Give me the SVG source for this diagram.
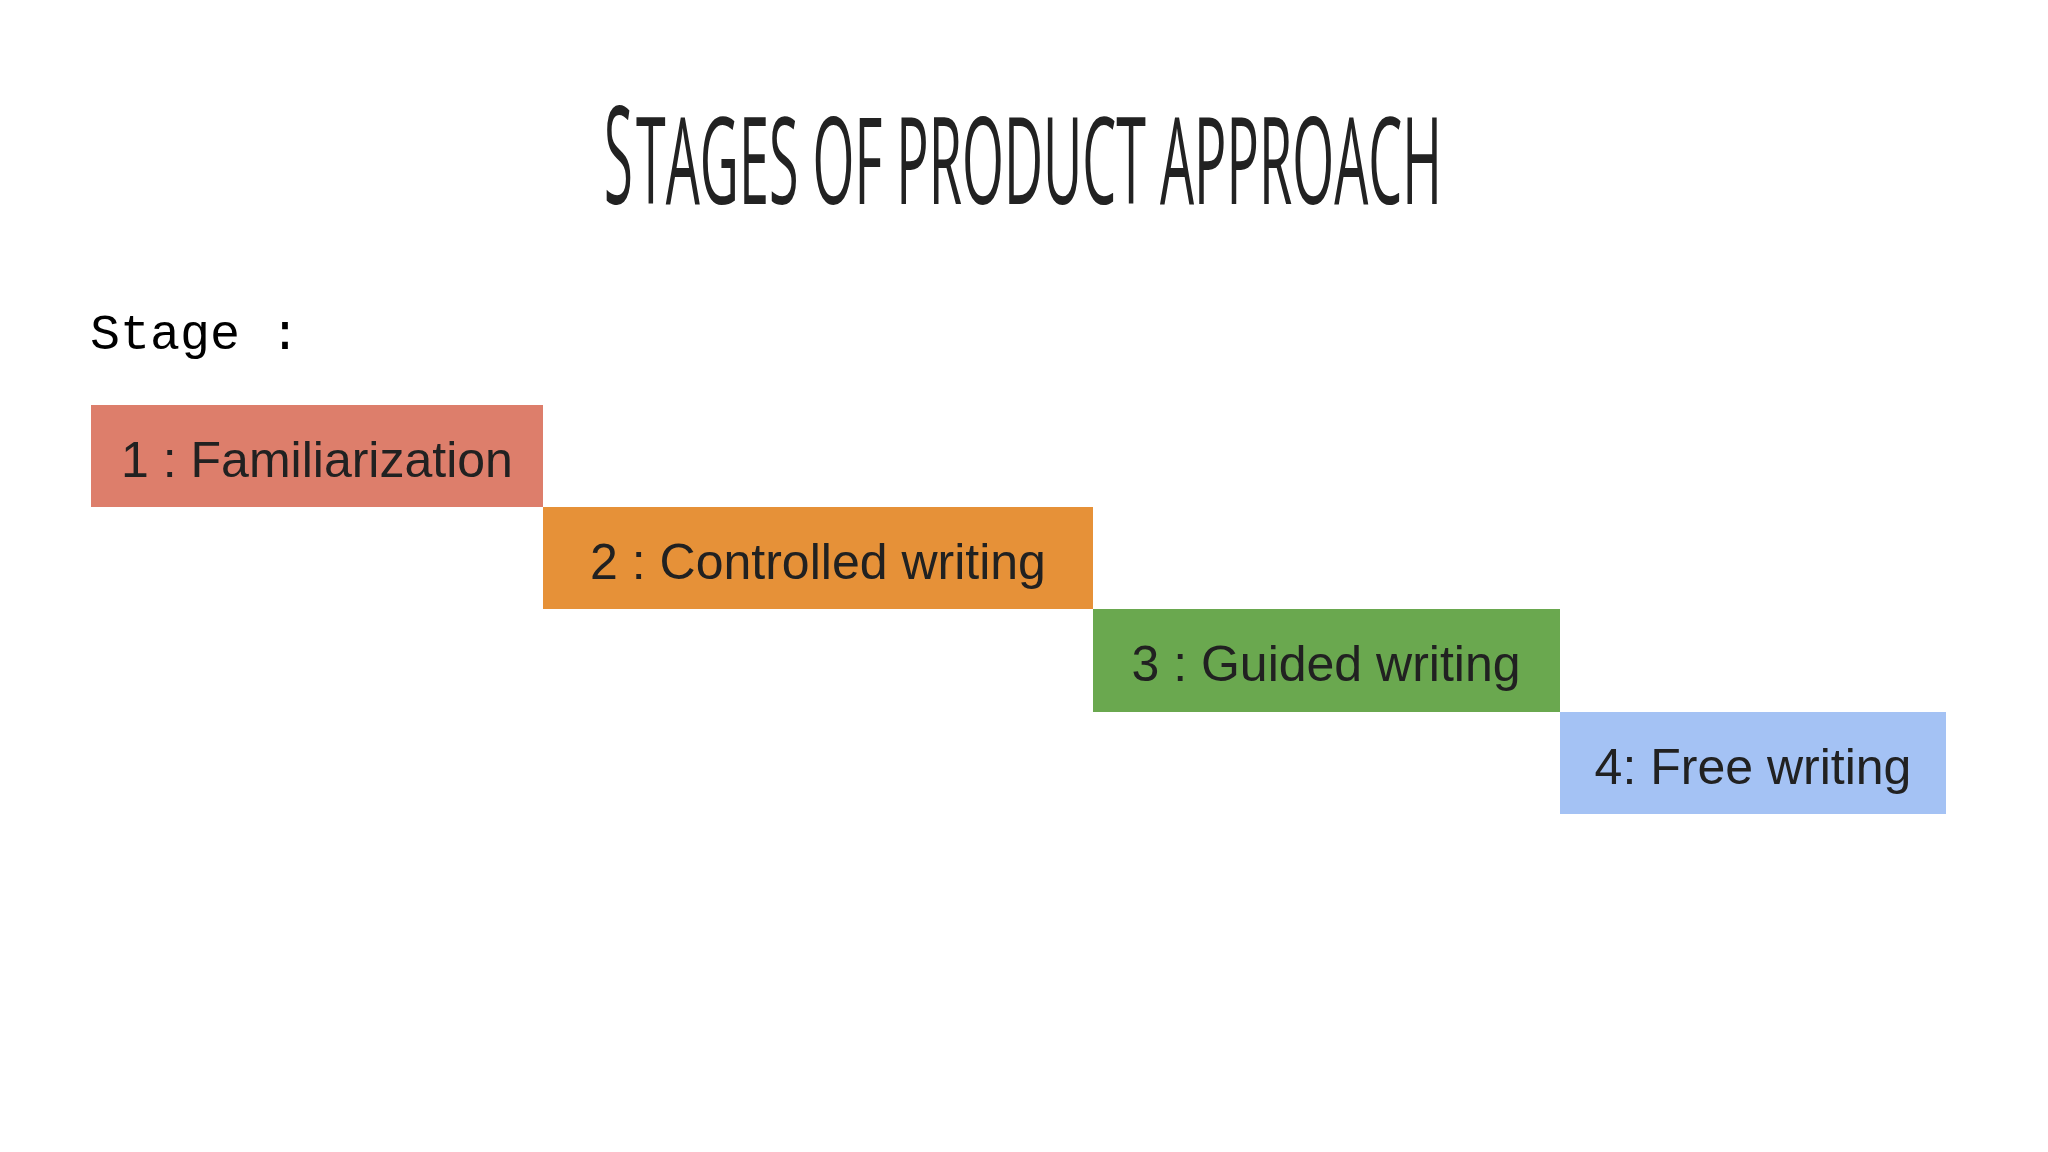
<svg xmlns="http://www.w3.org/2000/svg" width="2048" height="1152" viewBox="0 0 2048 1152">
  <style>
    .lbl { font-family: "Liberation Sans", Arial, sans-serif; font-size: 50px; fill: #212121; text-anchor: middle; }
    .title { font-family: "Open Sans", "DejaVu Sans", sans-serif; fill: #222222; }
    .mono { font-family: "Liberation Mono", "DejaVu Sans Mono", monospace; font-size: 50px; fill: #000000; }
  </style>
  <rect x="0" y="0" width="2048" height="1152" fill="#ffffff"/>
  <g id="title">
    <g transform="translate(604,204) scale(0.45,1)">
      <text class="title" x="0" y="0" font-size="136" textLength="64" lengthAdjust="spacingAndGlyphs">S</text>
    </g>
    <g transform="translate(636,204) scale(0.45,1)">
      <text class="title" x="0" y="0" font-size="120" textLength="1791" lengthAdjust="spacingAndGlyphs">TAGES OF PRODUCT APPROACH</text>
    </g>
  </g>
  <g id="stage-label">
    <text class="mono" x="90" y="349">Stage :</text>
  </g>
  <g id="stage1">
    <rect x="91" y="405" width="452" height="102" fill="#dd7e6b"/>
    <text class="lbl" x="317" y="477">1 : Familiarization</text>
  </g>
  <g id="stage2">
    <rect x="543" y="507" width="550" height="102" fill="#e69138"/>
    <text class="lbl" x="818" y="579">2 : Controlled writing</text>
  </g>
  <g id="stage3">
    <rect x="1093" y="609" width="467" height="103" fill="#6aa84f"/>
    <text class="lbl" x="1326" y="681">3 : Guided writing</text>
  </g>
  <g id="stage4">
    <rect x="1560" y="712" width="386" height="102" fill="#a4c2f4"/>
    <text class="lbl" x="1753" y="784">4: Free writing</text>
  </g>
  <g id="connectors"/>
</svg>
